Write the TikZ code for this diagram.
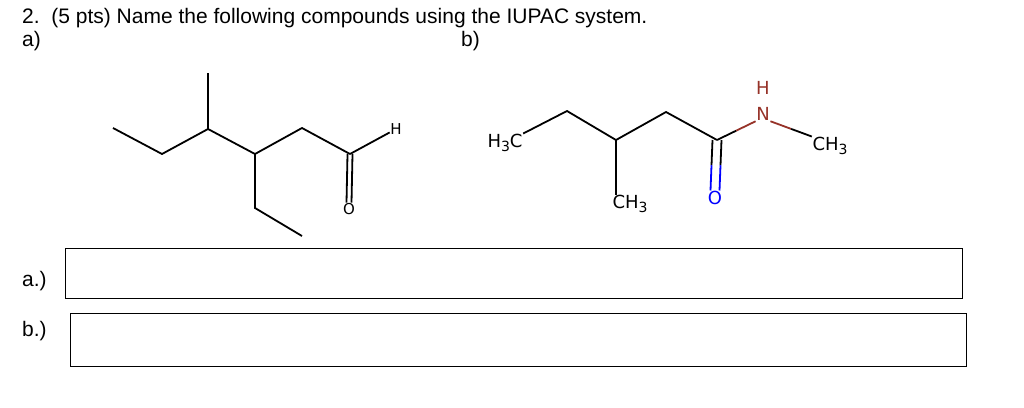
\documentclass[tikz,border=0pt]{standalone}
\usepackage{fontspec}
\usetikzlibrary{calc}
\setmainfont{Liberation Sans}
\newfontfamily\chem{DejaVu Sans}
\definecolor{nred}{RGB}{150,50,40}
\newcommand{\subn}[1]{\raisebox{-4pt}{\fontsize{14}{14}\selectfont #1}}
\begin{document}
\begin{tikzpicture}[x=1pt,y=-1pt,
  bond/.style={line width=1.8pt},
  txt/.style={anchor=west,inner sep=0,font=\fontsize{21}{24}\selectfont},
  atom/.style={inner sep=0.5pt,font=\chem\fontsize{18}{20}\selectfont},
  ansbox/.style={draw,line width=0.9pt}]
\useasboundingbox (0,0) rectangle (1024,407);
\node[txt] (t) at (22,18) {2.\ \ (5 pts) Name the following compounds using the IUPAC system.};
\node[txt] (la) at (22,41) {a)};
\node[txt] (lb) at (461,41) {b)};
% molecule a
\coordinate (a1) at (113,128); \coordinate (a2) at (162,154);
\coordinate (a3) at (208,129); \coordinate (a4) at (208,73);
\coordinate (a5) at (255,154); \coordinate (a6) at (255,208);
\coordinate (a7) at (302,236); \coordinate (a8) at (302,128);
\coordinate (a9) at (350,154);
\node[atom,font=\chem\fontsize{15}{17}\selectfont] (ao) at (349,209) {O};
\node[atom,font=\chem\fontsize{15}{17}\selectfont] (ah) at (396,129) {H};
\draw[bond,line join=round] (a1)--(a2)--(a3)--(a5)--(a8)--(a9);
\draw[bond] (a3)--(a4); \draw[bond] (a5)--(a6)--(a7);
\draw[bond] (a9)--(ah);
\draw[bond] ([xshift=-2.5]a9)--([xshift=-2.5]ao.north);
\draw[bond] ([xshift=2.5]a9)--([xshift=2.5]ao.north);
% molecule b
\node[atom] (bh3c) at (505,143) {H\subn{3}C};
\coordinate (b2) at (567,111); \coordinate (b3) at (616,140);
\node[atom] (bme) at (630,204) {CH\subn{3}};
\coordinate (b4) at (666,112); \coordinate (b5) at (717,140);
\node[atom,text=blue] (bo) at (715,198) {O};
\node[atom,text=nred] (bn) at (763,114) {N};
\node[atom,text=nred] (bnh) at (763,88) {H};
\node[atom] (bch3) at (830,146) {CH\subn{3}};
\draw[bond,line join=round] (bh3c.north east)--(b2)--(b3)--(b4)--(b5);
\draw[bond] (b3)--(bme.north west-|b3);
\draw[bond] (b5)--($(b5)!0.5!(bn.south west)$);
\draw[bond,nred] ($(b5)!0.5!(bn.south west)$)--(bn.south west);
\draw[bond,nred] (bn.south east)--($(bn.south east)!0.5!(bch3.north west)$);
\draw[bond] ($(bn.south east)!0.5!(bch3.north west)$)--(bch3.north west);
\foreach \s in {-4.5,4.5}{
  \draw[bond] ([xshift=\s]b5)--([xshift=\s]$(b5)!0.5!(bo.north)$);
  \draw[bond,blue] ([xshift=\s]$(b5)!0.5!(bo.north)$)--([xshift=\s]bo.north);}
% answers
\node[txt] (qa) at (22,281) {a.)};
\node[txt] (qb) at (22,331) {b.)};
\draw[ansbox] (65,248) rectangle (962,298);
\draw[ansbox] (70,313) rectangle (966,366);
\end{tikzpicture}
\end{document}
